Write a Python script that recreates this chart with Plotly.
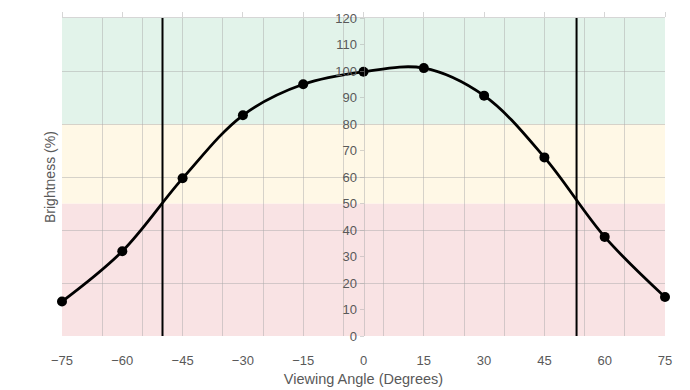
import plotly.graph_objects as go

# ---- data ----
angles = [-75, -60, -45, -30, -15, 0, 15, 30, 45, 60, 75]
brightness = [13, 32, 59.5, 83.3, 95, 99.7, 101.1, 90.7, 67.4, 37.4, 14.7]
cutoff_angles = [-50, 53]
x_tick_labels = [-75, -60, -45, -30, -15, 0, 15, 30, 45, 60, 75]
x_grid = [-75, -65, -55, -45, -35, -25, -15, -5, 5, 15, 25, 35, 45, 55, 65, 75]
y_ticks = [0, 10, 20, 30, 40, 50, 60, 70, 80, 90, 100, 110, 120]
y_grid = [0, 20, 40, 60, 80, 100, 120]
bands = [(0, 50, "rgb(249,227,228)"), (50, 80, "rgb(255,248,230)"), (80, 120, "rgb(226,243,234)")]

GRID = "rgba(170,170,170,0.48)"
LABEL = "#595959"
FONT = "Liberation Sans"

fig = go.Figure()

# empty helper traces so the overlaid grid/tick axes are drawn
fig.add_trace(go.Scatter(x=[None], y=[None], xaxis="x2", yaxis="y2", showlegend=False, hoverinfo="skip"))
fig.add_trace(go.Scatter(x=[None], y=[None], xaxis="x3", yaxis="y2", showlegend=False, hoverinfo="skip"))

for a in cutoff_angles:
    fig.add_trace(go.Scatter(x=[a, a], y=[0, 120], mode="lines",
                             line=dict(color="black", width=2),
                             hoverinfo="skip", showlegend=False))

fig.add_trace(go.Scatter(x=angles, y=brightness, mode="lines+markers",
                         line=dict(color="black", width=2.8, shape="spline", smoothing=1),
                         marker=dict(color="black", size=10),
                         cliponaxis=False, showlegend=False))

shapes = []
for y0, y1, c in bands:
    shapes.append(dict(type="rect", xref="x domain", yref="y", x0=0, x1=1, y0=y0, y1=y1,
                       fillcolor=c, line=dict(width=0), layer="below"))

fig.update_layout(
    width=682, height=382,
    margin=dict(l=54, r=25, t=10, b=54, autoexpand=False),
    paper_bgcolor="white", plot_bgcolor="white",
    font=dict(family=FONT, color=LABEL, size=13),
    shapes=shapes,
    xaxis=dict(range=[-75, 75], tickmode="array", tickvals=x_tick_labels, automargin=False,
               ticks="outside", ticklen=0, ticklabelstandoff=12,
               showgrid=False, zeroline=False, showline=False,
               tickfont=dict(size=13, color=LABEL),
               title=dict(text="Viewing Angle (Degrees)", font=dict(size=14.5, color=LABEL), standoff=7)),
    xaxis2=dict(range=[-75, 75], overlaying="x", side="top", anchor="y2", automargin=False,
                tickmode="array", tickvals=x_grid, ticks="", showticklabels=False,
                showgrid=True, gridcolor=GRID, gridwidth=1, zeroline=False,
                showline=True, linecolor=GRID, linewidth=1),
    xaxis3=dict(range=[-75, 75], overlaying="x", side="top", anchor="y2", automargin=False,
                tickmode="array", tickvals=x_tick_labels, ticks="outside", ticklen=5,
                tickcolor=GRID, showticklabels=False, showgrid=False, zeroline=False,
                showline=False),
    yaxis=dict(range=[0, 120], tickmode="array", tickvals=y_ticks, automargin=False,
               anchor="free", position=0.5, ticks="outside", ticklen=4, tickcolor=GRID,
               showline=True, linecolor=GRID, linewidth=1,
               showgrid=False, zeroline=False, tickfont=dict(size=13, color=LABEL)),
    yaxis2=dict(range=[0, 120], overlaying="y", anchor="x2", tickmode="array", tickvals=y_grid,
                automargin=False, showticklabels=False, ticks="", showgrid=True,
                gridcolor=GRID, gridwidth=1, zeroline=False, showline=False),
    annotations=[dict(text="Brightness (%)", xref="paper", yref="paper", x=0, y=0.5,
                      xshift=-12, textangle=-90, showarrow=False,
                      font=dict(size=14, color=LABEL), xanchor="center", yanchor="middle")],
)

fig.write_html("out.html")
